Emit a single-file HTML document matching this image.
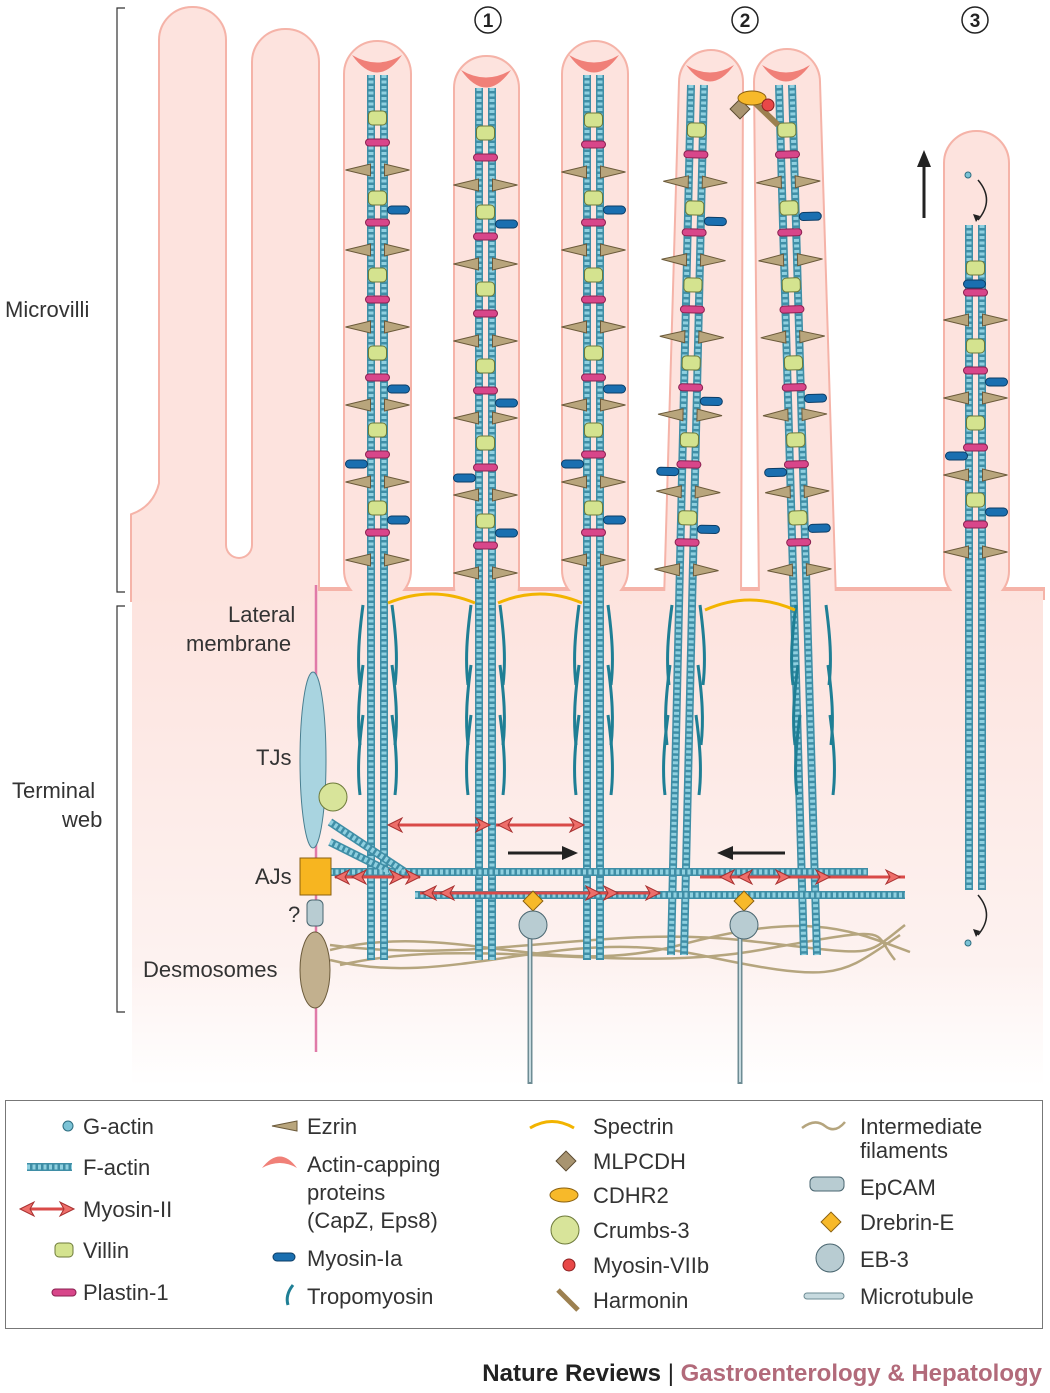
<!DOCTYPE html>
<html><head><meta charset="utf-8"><style>
body{margin:0;background:#fff;}
svg{display:block;font-family:"Liberation Sans",sans-serif;}
.t{font-size:22px;fill:#333;}
</style></head><body>
<svg width="1050" height="1393" viewBox="0 0 1050 1393" xmlns="http://www.w3.org/2000/svg">
<defs>
<linearGradient id="bg" x1="0" y1="0" x2="0" y2="1">
<stop offset="0" stop-color="#fde3de"/><stop offset="0.75" stop-color="#fdf2f0"/><stop offset="1" stop-color="#ffffff"/>
</linearGradient>
<g id="unit">
<polygon points="-32,52 -7,46 -7,58" fill="#b8a57c" stroke="#6b5a3a" stroke-width="1"/>
<polygon points="32,52 7,46 7,58" fill="#b8a57c" stroke="#6b5a3a" stroke-width="1"/>
<rect x="-9" y="-7" width="18" height="14" rx="4" fill="#d4e38f" stroke="#6d7a3a" stroke-width="1"/>
<rect x="-12" y="21" width="24" height="7" rx="3.5" fill="#d8468a" stroke="#8a2050" stroke-width="1"/>
</g>
<rect id="myo" x="0" y="0" width="22" height="8" rx="4" fill="#1a6fb0" stroke="#0c3d66" stroke-width="1"/>
<path id="trop" d="M0,0 C-4,30 -6,55 -3,80" fill="none" stroke="#1f7f95" stroke-width="3"/>
<path id="tropR" d="M0,0 C4,30 6,55 3,80" fill="none" stroke="#1f7f95" stroke-width="3"/>
</defs>

<path d="M125,8 H117 V592 H125" fill="none" stroke="#333" stroke-width="1.2"/>
<path d="M125,606 H117 V1012 H125" fill="none" stroke="#333" stroke-width="1.2"/>
<text class="t" x="5" y="317">Microvilli</text>
<text class="t" x="12" y="798">Terminal</text>
<text class="t" x="62" y="827">web</text>

<g fill="none" stroke="#f5b3a8" stroke-width="4">
<rect x="160" y="8" width="65" height="640" rx="32"/>
<rect x="253" y="30" width="65" height="620" rx="32"/>
<path d="M225,545 A14,14 0 0 0 253,545 L253,600 L225,600 Z"/>
<rect x="345" y="42" width="65" height="560" rx="32"/>
<rect x="455" y="57" width="63" height="560" rx="31"/>
<rect x="563" y="42" width="64" height="560" rx="32"/>
<path d="M680,82 A31,31 0 0 1 742,82 L740,600 L665,600 Z"/>
<path d="M755,82 A32,32 0 0 1 819,82 L835,600 L760,600 Z"/>
<rect x="945" y="132" width="63" height="470" rx="31"/>
<path d="M132,515 Q160,505 162,470 L200,470 L200,600 L132,600 Z"/>
<line x1="132" y1="589" x2="1045" y2="589"/>
<line x1="1043" y1="589" x2="1043" y2="600"/>
</g>
<g fill="#fde3de">
<rect x="160" y="8" width="65" height="640" rx="32"/>
<rect x="253" y="30" width="65" height="620" rx="32"/>
<path d="M225,545 A14,14 0 0 0 253,545 L253,600 L225,600 Z"/>
<rect x="345" y="42" width="65" height="560" rx="32"/>
<rect x="455" y="57" width="63" height="560" rx="31"/>
<rect x="563" y="42" width="64" height="560" rx="32"/>
<path d="M680,82 A31,31 0 0 1 742,82 L740,600 L665,600 Z"/>
<path d="M755,82 A32,32 0 0 1 819,82 L835,600 L760,600 Z"/>
<rect x="945" y="132" width="63" height="470" rx="31"/>
<path d="M132,515 Q160,505 162,470 L200,470 L200,600 L132,600 Z"/>
</g>
<rect x="132" y="591" width="911" height="495" fill="url(#bg)"/>

<g fill="#f08078">
<path d="M352,55 Q377,90 402,55 Q377,70 352,55Z"/>
<path d="M461,70 Q486,105 511,70 Q486,85 461,70Z"/>
<path d="M569,55 Q594,90 619,55 Q594,70 569,55Z"/>
<path d="M686,65 Q710,98 734,65 Q710,80 686,65Z"/>
<path d="M762,65 Q786,98 810,65 Q786,80 762,65Z"/>
</g>

<line x1="316" y1="585" x2="316" y2="1052" stroke="#e07aa8" stroke-width="2.5"/>

<g fill="none" stroke="#b5a57e" stroke-width="2.5">
<path d="M330,950 C450,920 550,980 680,945 S850,930 910,952"/>
<path d="M330,960 C450,990 560,925 700,955 S840,975 900,935"/>
<path d="M330,945 C480,965 600,925 740,940 S860,960 905,925"/>
<path d="M340,965 C470,935 620,975 760,950 S870,930 895,960"/>
</g>

<g stroke="#6e8c94" stroke-width="5"><line x1="530" y1="925" x2="530" y2="1084"/><line x1="740" y1="925" x2="740" y2="1084"/></g>
<g stroke="#c7dadf" stroke-width="2"><line x1="530" y1="930" x2="530" y2="1082"/><line x1="740" y1="930" x2="740" y2="1082"/></g>

<g stroke="#3f8ea6" stroke-width="8">
<line x1="371" y1="75" x2="371" y2="960"/><line x1="384" y1="75" x2="384" y2="960"/>
<line x1="479" y1="88" x2="479" y2="960"/><line x1="492" y1="88" x2="492" y2="960"/>
<line x1="587" y1="75" x2="587" y2="960"/><line x1="600" y1="75" x2="600" y2="960"/>
<line x1="691" y1="85" x2="671" y2="955"/><line x1="704" y1="85" x2="684" y2="955"/>
<line x1="779" y1="85" x2="804" y2="955"/><line x1="792" y1="85" x2="817" y2="955"/>
<line x1="969" y1="225" x2="969" y2="890"/><line x1="982" y1="225" x2="982" y2="890"/>
</g>
<g stroke="#8fd0e0" stroke-width="5" stroke-dasharray="3 2.5">
<line x1="371" y1="75" x2="371" y2="960"/><line x1="384" y1="75" x2="384" y2="960"/>
<line x1="479" y1="88" x2="479" y2="960"/><line x1="492" y1="88" x2="492" y2="960"/>
<line x1="587" y1="75" x2="587" y2="960"/><line x1="600" y1="75" x2="600" y2="960"/>
<line x1="691" y1="85" x2="671" y2="955"/><line x1="704" y1="85" x2="684" y2="955"/>
<line x1="779" y1="85" x2="804" y2="955"/><line x1="792" y1="85" x2="817" y2="955"/>
<line x1="969" y1="225" x2="969" y2="890"/><line x1="982" y1="225" x2="982" y2="890"/>
</g>

<g stroke="#3f8ea6" stroke-width="8">
<line x1="330" y1="872" x2="868" y2="872"/>
<line x1="415" y1="895" x2="905" y2="895"/>
<line x1="330" y1="822" x2="405" y2="872"/>
<line x1="330" y1="842" x2="390" y2="872"/>
</g>
<g stroke="#8fd0e0" stroke-width="5" stroke-dasharray="3 2.5">
<line x1="330" y1="872" x2="868" y2="872"/>
<line x1="415" y1="895" x2="905" y2="895"/>
<line x1="330" y1="822" x2="405" y2="872"/>
<line x1="330" y1="842" x2="390" y2="872"/>
</g>

<g transform="translate(377.5,0)">
<use href="#unit" y="118"/><use href="#unit" y="198"/><use href="#unit" y="275"/><use href="#unit" y="353"/><use href="#unit" y="430"/><use href="#unit" y="508"/>
<use href="#myo" x="10" y="206"/><use href="#myo" x="10" y="385"/><use href="#myo" x="10" y="516"/><use href="#myo" x="-32" y="460"/>
</g>
<g transform="translate(485.5,0)">
<use href="#unit" y="133"/><use href="#unit" y="212"/><use href="#unit" y="289"/><use href="#unit" y="366"/><use href="#unit" y="443"/><use href="#unit" y="521"/>
<use href="#myo" x="10" y="220"/><use href="#myo" x="10" y="399"/><use href="#myo" x="10" y="529"/><use href="#myo" x="-32" y="474"/>
</g>
<g transform="translate(593.5,0)">
<use href="#unit" y="120"/><use href="#unit" y="198"/><use href="#unit" y="275"/><use href="#unit" y="353"/><use href="#unit" y="430"/><use href="#unit" y="508"/>
<use href="#myo" x="10" y="206"/><use href="#myo" x="10" y="385"/><use href="#myo" x="10" y="516"/><use href="#myo" x="-32" y="460"/>
</g>
<g transform="translate(697.5,85) rotate(1.3)">
<use href="#unit" y="45"/><use href="#unit" y="123"/><use href="#unit" y="200"/><use href="#unit" y="278"/><use href="#unit" y="355"/><use href="#unit" y="433"/>
<use href="#myo" x="10" y="132"/><use href="#myo" x="10" y="312"/><use href="#myo" x="10" y="440"/><use href="#myo" x="-32" y="383"/>
</g>
<g transform="translate(785.5,85) rotate(-1.65)">
<use href="#unit" y="45"/><use href="#unit" y="123"/><use href="#unit" y="200"/><use href="#unit" y="278"/><use href="#unit" y="355"/><use href="#unit" y="433"/>
<use href="#myo" x="10" y="128"/><use href="#myo" x="10" y="310"/><use href="#myo" x="10" y="440"/><use href="#myo" x="-32" y="383"/>
</g>
<g transform="translate(975.5,0)">
<use href="#unit" y="268"/><use href="#unit" y="346"/><use href="#unit" y="423"/><use href="#unit" y="500"/>
<use href="#myo" x="-12" y="280"/><use href="#myo" x="10" y="378"/><use href="#myo" x="10" y="508"/><use href="#myo" x="-30" y="452"/>
</g>

<line x1="752" y1="100" x2="778" y2="125" stroke="#9c8050" stroke-width="6"/>
<rect x="733" y="102" width="14" height="14" fill="#a89470" stroke="#5a4a30" transform="rotate(45 740 109)"/>
<ellipse cx="752" cy="98" rx="14" ry="7" fill="#f7b92a" stroke="#8a6010"/>
<circle cx="768" cy="105" r="6" fill="#e84848" stroke="#8a2020"/>

<g>
<use href="#trop" x="363" y="605"/><use href="#tropR" x="392" y="605"/><use href="#trop" x="363" y="665"/><use href="#tropR" x="392" y="665"/><use href="#trop" x="363" y="715"/><use href="#tropR" x="392" y="715"/>
<use href="#trop" x="471" y="605"/><use href="#tropR" x="500" y="605"/><use href="#trop" x="471" y="665"/><use href="#tropR" x="500" y="665"/><use href="#trop" x="471" y="715"/><use href="#tropR" x="500" y="715"/>
<use href="#trop" x="579" y="605"/><use href="#tropR" x="608" y="605"/><use href="#trop" x="579" y="665"/><use href="#tropR" x="608" y="665"/><use href="#trop" x="579" y="715"/><use href="#tropR" x="608" y="715"/>
<use href="#trop" x="672" y="605"/><use href="#tropR" x="700" y="605"/><use href="#trop" x="670" y="665"/><use href="#tropR" x="698" y="665"/><use href="#trop" x="668" y="715"/><use href="#tropR" x="696" y="715"/>
<use href="#trop" x="796" y="605"/><use href="#tropR" x="826" y="605"/><use href="#trop" x="798" y="665"/><use href="#tropR" x="828" y="665"/><use href="#trop" x="800" y="715"/><use href="#tropR" x="830" y="715"/>
</g>

<g fill="none" stroke="#f2b400" stroke-width="3">
<path d="M388,603 Q432,585 475,603"/><path d="M498,603 Q540,585 582,603"/><path d="M705,610 Q750,590 795,610"/>
</g>

<g stroke="#d94a48" stroke-width="3">
<line x1="390" y1="825" x2="488" y2="825"/><line x1="496" y1="825" x2="582" y2="825"/>
<line x1="335" y1="877" x2="420" y2="877"/><line x1="700" y1="877" x2="905" y2="877"/>
<line x1="420" y1="893" x2="660" y2="893"/>
</g>
<g fill="#ee6e6a" stroke="#a83030" stroke-width="1">
<path d="M388,825 l14,-7 -4,7 4,7z"/><path d="M490,825 l-14,-7 4,7 -4,7z"/><path d="M498,825 l14,-7 -4,7 4,7z"/><path d="M584,825 l-14,-7 4,7 -4,7z"/>
<path d="M335,877 l14,-7 -4,7 4,7z"/><path d="M352,877 l14,-7 -4,7 4,7z"/><path d="M420,877 l-14,-7 4,7 -4,7z"/><path d="M404,877 l-14,-7 4,7 -4,7z"/>
<path d="M720,877 l14,-7 -4,7 4,7z"/><path d="M738,877 l14,-7 -4,7 4,7z"/><path d="M790,877 l-14,-7 4,7 -4,7z"/><path d="M830,877 l-14,-7 4,7 -4,7z"/><path d="M900,877 l-14,-7 4,7 -4,7z"/>
<path d="M422,893 l14,-7 -4,7 4,7z"/><path d="M440,893 l14,-7 -4,7 4,7z"/><path d="M600,893 l-14,-7 4,7 -4,7z"/><path d="M618,893 l-14,-7 4,7 -4,7z"/><path d="M660,893 l-14,-7 4,7 -4,7z"/>
</g>

<g stroke="#222" stroke-width="3" fill="#222">
<line x1="508" y1="853" x2="565" y2="853"/><path d="M578,853 l-16,-7 0,14z" stroke="none"/>
<line x1="785" y1="853" x2="730" y2="853"/><path d="M717,853 l16,-7 0,14z" stroke="none"/>
<line x1="924" y1="218" x2="924" y2="165"/><path d="M924,150 l-7,17 14,0z" stroke="none"/>
</g>
<g fill="none" stroke="#222" stroke-width="1.5">
<path d="M978,180 Q995,200 978,220"/><path d="M978,895 Q995,915 978,935"/>
</g>
<path d="M976,222 l-3,-8 7,2z M976,937 l-3,-8 7,2z" fill="#222"/>
<circle cx="968" cy="175" r="3" fill="#7cc3d6" stroke="#2d6d80"/>
<circle cx="968" cy="943" r="3" fill="#7cc3d6" stroke="#2d6d80"/>

<ellipse cx="313" cy="760" rx="13" ry="88" fill="#a9d4e0" stroke="#4a7f90"/>
<circle cx="333" cy="797" r="14" fill="#d8e49a" stroke="#6d7a3a"/>
<rect x="300" y="858" width="31" height="37" fill="#f7b520" stroke="#8a6010"/>
<rect x="307" y="900" width="16" height="26" rx="5" fill="#b8ccd2" stroke="#4a6670"/>
<ellipse cx="315" cy="970" rx="15" ry="38" fill="#c2b08e" stroke="#6b5a3a"/>
<text class="t" x="288" y="922" font-size="20">?</text>

<rect x="526" y="894" width="14" height="14" fill="#f7b92a" stroke="#8a6010" transform="rotate(45 533 901)"/>
<rect x="737" y="894" width="14" height="14" fill="#f7b92a" stroke="#8a6010" transform="rotate(45 744 901)"/>
<circle cx="533" cy="925" r="14" fill="#b8ccd2" stroke="#4a6670"/>
<circle cx="744" cy="925" r="14" fill="#b8ccd2" stroke="#4a6670"/>

<text class="t" x="228" y="622">Lateral</text>
<text class="t" x="186" y="651">membrane</text>
<text class="t" x="256" y="765">TJs</text>
<text class="t" x="255" y="884">AJs</text>
<text class="t" x="143" y="977">Desmosomes</text>

<g fill="none" stroke="#222" stroke-width="1.5"><circle cx="488" cy="20" r="13"/><circle cx="745" cy="20" r="13"/><circle cx="975" cy="20" r="13"/></g>
<g font-weight="bold" font-size="19" fill="#222" text-anchor="middle"><text x="488" y="27">1</text><text x="745" y="27">2</text><text x="975" y="27">3</text></g>

<rect x="5.5" y="1100.5" width="1037" height="228" fill="#fff" stroke="#777" stroke-width="1"/>
<circle cx="68" cy="1126" r="5" fill="#7cc3d6" stroke="#2d6d80"/>
<text class="t" x="83" y="1134">G-actin</text>
<line x1="27" y1="1167" x2="72" y2="1167" stroke="#3f8ea6" stroke-width="8"/>
<line x1="27" y1="1167" x2="72" y2="1167" stroke="#8fd0e0" stroke-width="5" stroke-dasharray="3 2.5"/>
<text class="t" x="83" y="1175">F-actin</text>
<line x1="22" y1="1209" x2="72" y2="1209" stroke="#d94a48" stroke-width="3"/>
<path d="M20,1209 l14,-7 -4,7 4,7z M74,1209 l-14,-7 4,7 -4,7z" fill="#ee6e6a" stroke="#a83030"/>
<text class="t" x="83" y="1217">Myosin-II</text>
<rect x="55" y="1243" width="18" height="14" rx="4" fill="#d4e38f" stroke="#6d7a3a"/>
<text class="t" x="83" y="1258">Villin</text>
<rect x="52" y="1289" width="24" height="7" rx="3.5" fill="#d8468a" stroke="#8a2050"/>
<text class="t" x="83" y="1300">Plastin-1</text>

<polygon points="272,1126 297,1121 297,1131" fill="#b8a57c" stroke="#6b5a3a"/>
<text class="t" x="307" y="1134">Ezrin</text>
<path d="M262,1168 Q280,1145 297,1168 Q280,1158 262,1168Z" fill="#f08078"/>
<text class="t" x="307" y="1172">Actin-capping</text>
<text class="t" x="307" y="1200">proteins</text>
<text class="t" x="307" y="1228">(CapZ, Eps8)</text>
<rect x="273" y="1253" width="22" height="8" rx="4" fill="#1a6fb0" stroke="#0c3d66"/>
<text class="t" x="307" y="1266">Myosin-Ia</text>
<path d="M293,1285 Q285,1295 288,1305" fill="none" stroke="#1f7f95" stroke-width="3"/>
<text class="t" x="307" y="1304">Tropomyosin</text>

<path d="M530,1128 Q552,1115 574,1128" fill="none" stroke="#f2b400" stroke-width="3"/>
<text class="t" x="593" y="1134">Spectrin</text>
<rect x="559" y="1154" width="14" height="14" fill="#a89470" stroke="#5a4a30" transform="rotate(45 566 1161)"/>
<text class="t" x="593" y="1169">MLPCDH</text>
<ellipse cx="564" cy="1195" rx="14" ry="7" fill="#f7b92a" stroke="#8a6010"/>
<text class="t" x="593" y="1203">CDHR2</text>
<circle cx="565" cy="1230" r="14" fill="#d8e49a" stroke="#6d7a3a"/>
<text class="t" x="593" y="1238">Crumbs-3</text>
<circle cx="569" cy="1265" r="6" fill="#e84848" stroke="#8a2020"/>
<text class="t" x="593" y="1273">Myosin-VIIb</text>
<line x1="558" y1="1290" x2="578" y2="1310" stroke="#9c8050" stroke-width="5"/>
<text class="t" x="593" y="1308">Harmonin</text>

<path d="M802,1128 Q815,1118 825,1126 T845,1122" fill="none" stroke="#b5a57e" stroke-width="2.5"/>
<text class="t" x="860" y="1134">Intermediate</text>
<text class="t" x="860" y="1158">filaments</text>
<rect x="810" y="1177" width="34" height="14" rx="5" fill="#b8ccd2" stroke="#4a6670"/>
<text class="t" x="860" y="1195">EpCAM</text>
<rect x="824" y="1215" width="14" height="14" fill="#f7b92a" stroke="#8a6010" transform="rotate(45 831 1222)"/>
<text class="t" x="860" y="1230">Drebrin-E</text>
<circle cx="830" cy="1258" r="14" fill="#b8ccd2" stroke="#4a6670"/>
<text class="t" x="860" y="1267">EB-3</text>
<rect x="804" y="1293" width="40" height="6" rx="3" fill="#c7dadf" stroke="#6e8c94"/>
<text class="t" x="860" y="1304">Microtubule</text>

<text x="1042" y="1381" text-anchor="end" font-size="24" font-weight="bold"><tspan fill="#222">Nature Reviews</tspan><tspan fill="#222" font-weight="normal"> | </tspan><tspan fill="#b26a7a">Gastroenterology &amp; Hepatology</tspan></text>
</svg>
</body></html>
